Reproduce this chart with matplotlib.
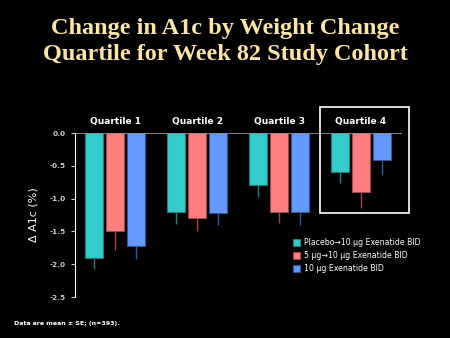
import numpy as np
import matplotlib.pyplot as plt
from matplotlib.patches import Rectangle

quartiles = ['Quartile 1', 'Quartile 2', 'Quartile 3', 'Quartile 4']
series = ['Placebo\u219210 \u00b5g Exenatide BID',
          '5 \u00b5g\u219210 \u00b5g Exenatide BID',
          '10 \u00b5g Exenatide BID']
placebo = [-1.9, -1.2, -0.8, -0.6]
placebo_se = [0.17, 0.19, 0.17, 0.16]
five = [-1.5, -1.3, -1.2, -0.9]
five_se = [0.29, 0.2, 0.17, 0.24]
ten = [-1.72, -1.22, -1.2, -0.41]
ten_se = [0.2, 0.19, 0.2, 0.23]

colors = ['#33CCCC', '#FF7F7F', '#6699FF']
edge_colors = ['#1A8080', '#A04848', '#3355A0']

fig = plt.figure(figsize=(4.5, 3.38), dpi=100, facecolor='black')
ax = fig.add_axes([0.1667, 0.1213, 0.7267, 0.4852])
ax.set_facecolor('black')

x = np.arange(len(quartiles))
width = 0.22
offsets = [-0.26, 0.0, 0.26]
all_vals = [placebo, five, ten]
all_se = [placebo_se, five_se, ten_se]
for i in range(3):
    vals = np.array(all_vals[i])
    se = np.array(all_se[i])
    ax.bar(x + offsets[i], vals, width, color=colors[i], edgecolor=edge_colors[i],
           linewidth=0.8, label=series[i], zorder=2)
    ax.errorbar(x + offsets[i], vals, yerr=[se, np.zeros_like(se)], fmt='none',
                ecolor=edge_colors[i], elinewidth=1.0, capsize=0, zorder=1)

ax.axhline(0, color='#999999', linewidth=1.2, zorder=3)
ax.set_xlim(-0.49, 3.50)
ax.set_ylim(-2.5, 0)
ax.set_yticks([0, -0.5, -1.0, -1.5, -2.0, -2.5])
ax.set_yticklabels(['0.0', '-0.5', '-1.0', '-1.5', '-2.0', '-2.5'])
ax.set_xticks([])
for s in ['top', 'right', 'bottom']:
    ax.spines[s].set_visible(False)
ax.spines['left'].set_color('white')
ax.tick_params(axis='y', colors='#CCCCCC', labelsize=5.3, length=3, width=0.8)
for lab in ax.get_yticklabels():
    lab.set_fontweight('bold')
ax.set_ylabel('\u0394 A1c (%)', color='white', fontsize=8, labelpad=8)

for i, q in enumerate(quartiles):
    ax.text(x[i], 0.18, q, color='white', fontsize=6.5, fontweight='bold',
            ha='center', va='center', clip_on=False)

fig.patches.append(Rectangle((320 / 450, 1 - 213 / 338), 89 / 450, 106 / 338,
                             transform=fig.transFigure, fill=False,
                             edgecolor='white', linewidth=1.2))

leg = ax.legend(loc='upper left', bbox_to_anchor=(0.645, 0.40), frameon=False,
                fontsize=5.6, handlelength=0.9, handleheight=0.9,
                handletextpad=0.5, labelspacing=0.5)
for t in leg.get_texts():
    t.set_color('white')

fig.text(0.5, 0.878, 'Change in A1c by Weight Change\nQuartile for Week 82 Study Cohort',
         color='#FFE4A8', fontsize=17.5, fontweight='bold', family='Liberation Serif',
         ha='center', va='center', linespacing=1.3)
fig.text(0.032, 0.044, 'Data are mean \u00b1 SE; (n=393).', color='white',
         fontsize=4.5, fontweight='bold', ha='left', va='center')

fig.savefig('out.png', dpi=100, facecolor='black')
